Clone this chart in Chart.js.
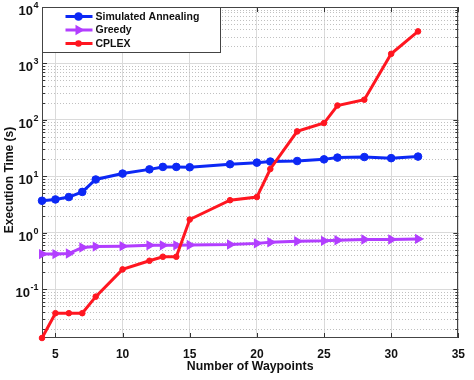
<!DOCTYPE html>
<html><head><meta charset="utf-8">
<script src="https://cdn.jsdelivr.net/npm/chart.js@4/dist/chart.umd.min.js"></script>
<style>html,body{margin:0;padding:0;background:#fff}#wrap{width:474px;height:380px}</style>
</head><body><div id="wrap"><canvas id="c" width="474" height="380"></canvas></div>
<script>
const waypoints = [4,5,6,7,8,10,12,13,14,15,18,20,21,23,25,26,28,30,32];
const annealing = [3.7,3.9,4.3,5.3,8.8,11.2,13.3,14.7,14.7,14.5,16.4,17.5,18.3,18.7,20,21.5,22,21,22.4];
const greedy = [0.42,0.42,0.43,0.55,0.57,0.58,0.6,0.6,0.6,0.61,0.62,0.65,0.68,0.71,0.72,0.74,0.76,0.76,0.78];
const cplex = [0.0137,0.0377,0.0377,0.0377,0.074,0.225,0.32,0.377,0.377,1.72,3.78,4.3,13.5,62.6,88,180,228,1480,3700];
const seriesNames = ['Simulated Annealing','Greedy','CPLEX'];
const xTicks = [5,10,15,20,25,30,35];
const yTicks = [0.1,1,10,100,1000,10000];
const yTickExponents = ['-1','0','1','2','3','4'];
const yTitle = 'Execution Time (s)';
const xTitle = 'Number of Waypoints';

const FONT = "'Liberation Sans', Arial, Helvetica, sans-serif";
const BLUE = 'rgb(12,40,245)', PURPLE = 'rgb(178,62,255)', RED = 'rgb(255,22,32)';

function pts(vals){ return waypoints.map((x,i)=>({x:x, y:vals[i]})); }

const gridPlugin = {
  id:'matlabGrid',
  beforeDatasetsDraw(chart){
    const {ctx, chartArea:{left,right,top,bottom}, scales:{x,y}} = chart;
    ctx.save();
    const line=(x1,y1,x2,y2)=>{ctx.beginPath();ctx.moveTo(x1,y1);ctx.lineTo(x2,y2);ctx.stroke();};
    ctx.lineWidth=1;
    ctx.strokeStyle='#c0c0c0'; ctx.setLineDash([1,2]);
    const minors=[];
    for(let d=-2; d<4; d++) for(let k=2;k<10;k++){
      const v=k*Math.pow(10,d); if(v<y.min||v>y.max) continue;
      const py=Math.round(y.getPixelForValue(v))+0.5; minors.push(py);
      line(left,py,right,py);
    }
    ctx.setLineDash([]);
    ctx.strokeStyle='#333';
    minors.forEach(py=>{ line(left,py,left+3,py); line(right-3,py,right,py); });
    yTicks.forEach(v=>{ const py=Math.round(y.getPixelForValue(v))+0.5; line(left,py,left+5,py); line(right-5,py,right,py); });
    xTicks.forEach(v=>{ const px=Math.round(x.getPixelForValue(v))+0.5; line(px,bottom,px,bottom-5); line(px,top,px,top+5); });
    ctx.strokeStyle='#444';
    ctx.strokeRect(Math.round(left)+0.5, Math.round(top)+0.5, Math.round(right-left)-1, Math.round(bottom-top)-1);
    // y tick labels: 10 with superscript exponent
    ctx.fillStyle='#111'; ctx.textAlign='left'; ctx.textBaseline='alphabetic';
    yTicks.forEach((v,i)=>{
      const py=y.getPixelForValue(v);
      ctx.font='bold 13px '+FONT; const wb=ctx.measureText('10').width;
      ctx.font='bold 9px '+FONT; const we=ctx.measureText(yTickExponents[i]).width;
      const xr=left-4, xs=xr-we-wb;
      ctx.font='bold 13px '+FONT; ctx.fillText('10', xs, py+8);
      ctx.font='bold 9px '+FONT; ctx.fillText(yTickExponents[i], xs+wb+0.5, py+1);
    });
    // y title
    ctx.save();
    ctx.translate(10, 180); ctx.rotate(-Math.PI/2);
    ctx.font='bold 12px '+FONT; ctx.textAlign='center'; ctx.textBaseline='middle';
    ctx.fillText(yTitle, 0, 0);
    ctx.restore();
    ctx.restore();
  },
  afterDraw(chart){
    const {ctx, chartArea:{left,top}} = chart;
    ctx.save();
    const bx=Math.round(left)+0.5, by=Math.round(top)+0.5;
    ctx.fillStyle='#fff'; ctx.fillRect(bx,by,178,45);
    ctx.strokeStyle='#444'; ctx.lineWidth=1; ctx.strokeRect(bx,by,178,45);
    chart.data.datasets.forEach((ds,i)=>{
      const yy = by + 9 + i*13.5;
      ctx.strokeStyle=ds.borderColor; ctx.lineWidth=3;
      ctx.beginPath(); ctx.moveTo(bx+23,yy); ctx.lineTo(bx+50,yy); ctx.stroke();
      ctx.fillStyle=ds.backgroundColor;
      const cx=bx+36;
      if(ds.pointStyle==='triangle'){
        ctx.beginPath(); ctx.moveTo(cx+6,yy); ctx.lineTo(cx-3,yy-5.2); ctx.lineTo(cx-3,yy+5.2); ctx.closePath(); ctx.fill();
      } else {
        ctx.beginPath(); ctx.arc(cx,yy,ds.pointRadius+0.5,0,Math.PI*2); ctx.fill();
      }
      ctx.fillStyle='#111'; ctx.font='bold 10.5px '+FONT; ctx.textBaseline='middle'; ctx.textAlign='left';
      ctx.fillText(ds.label, bx+53, yy+0.5);
    });
    ctx.restore();
  }
};

new Chart(document.getElementById('c'), {
  type:'line',
  data:{ datasets:[
    {label:seriesNames[0], data:pts(annealing), borderColor:BLUE, backgroundColor:BLUE, borderWidth:3, pointStyle:'circle', pointRadius:3.8, pointBorderWidth:1, order:2},
    {label:seriesNames[1], data:pts(greedy), borderColor:PURPLE, backgroundColor:PURPLE, borderWidth:3, pointStyle:'triangle', pointRotation:90, pointRadius:6, pointBorderWidth:0, order:1},
    {label:seriesNames[2], data:pts(cplex), borderColor:RED, backgroundColor:RED, borderWidth:3, pointStyle:'circle', pointRadius:2.8, pointBorderWidth:1, order:0}
  ]},
  options:{
    responsive:false, animation:false, clip:false,
    layout:{padding:{top:7,right:7,left:0,bottom:6}},
    plugins:{legend:{display:false}, tooltip:{enabled:false}},
    scales:{
      x:{type:'linear', min:4, max:35,
        afterBuildTicks:s=>{ s.ticks = xTicks.map(v=>({value:v})); },
        afterFit:s=>{ s.height = 36; },
        grid:{color:'#dadada', drawTicks:false}, border:{display:false},
        ticks:{font:{family:FONT, weight:'bold', size:12}, color:'#111', padding:9, maxRotation:0, autoSkip:false},
        title:{display:true, text:xTitle, font:{family:FONT, weight:'bold', size:12.3}, color:'#111', padding:{top:2,bottom:0}}
      },
      y:{type:'logarithmic', min:0.0137, max:10000,
        afterBuildTicks:s=>{ s.ticks = yTicks.map(v=>({value:v})); },
        afterFit:s=>{ s.width = 42; },
        grid:{color:'#dadada', drawTicks:false}, border:{display:false},
        ticks:{display:false}
      }
    }
  },
  plugins:[gridPlugin]
});
</script></body></html>
